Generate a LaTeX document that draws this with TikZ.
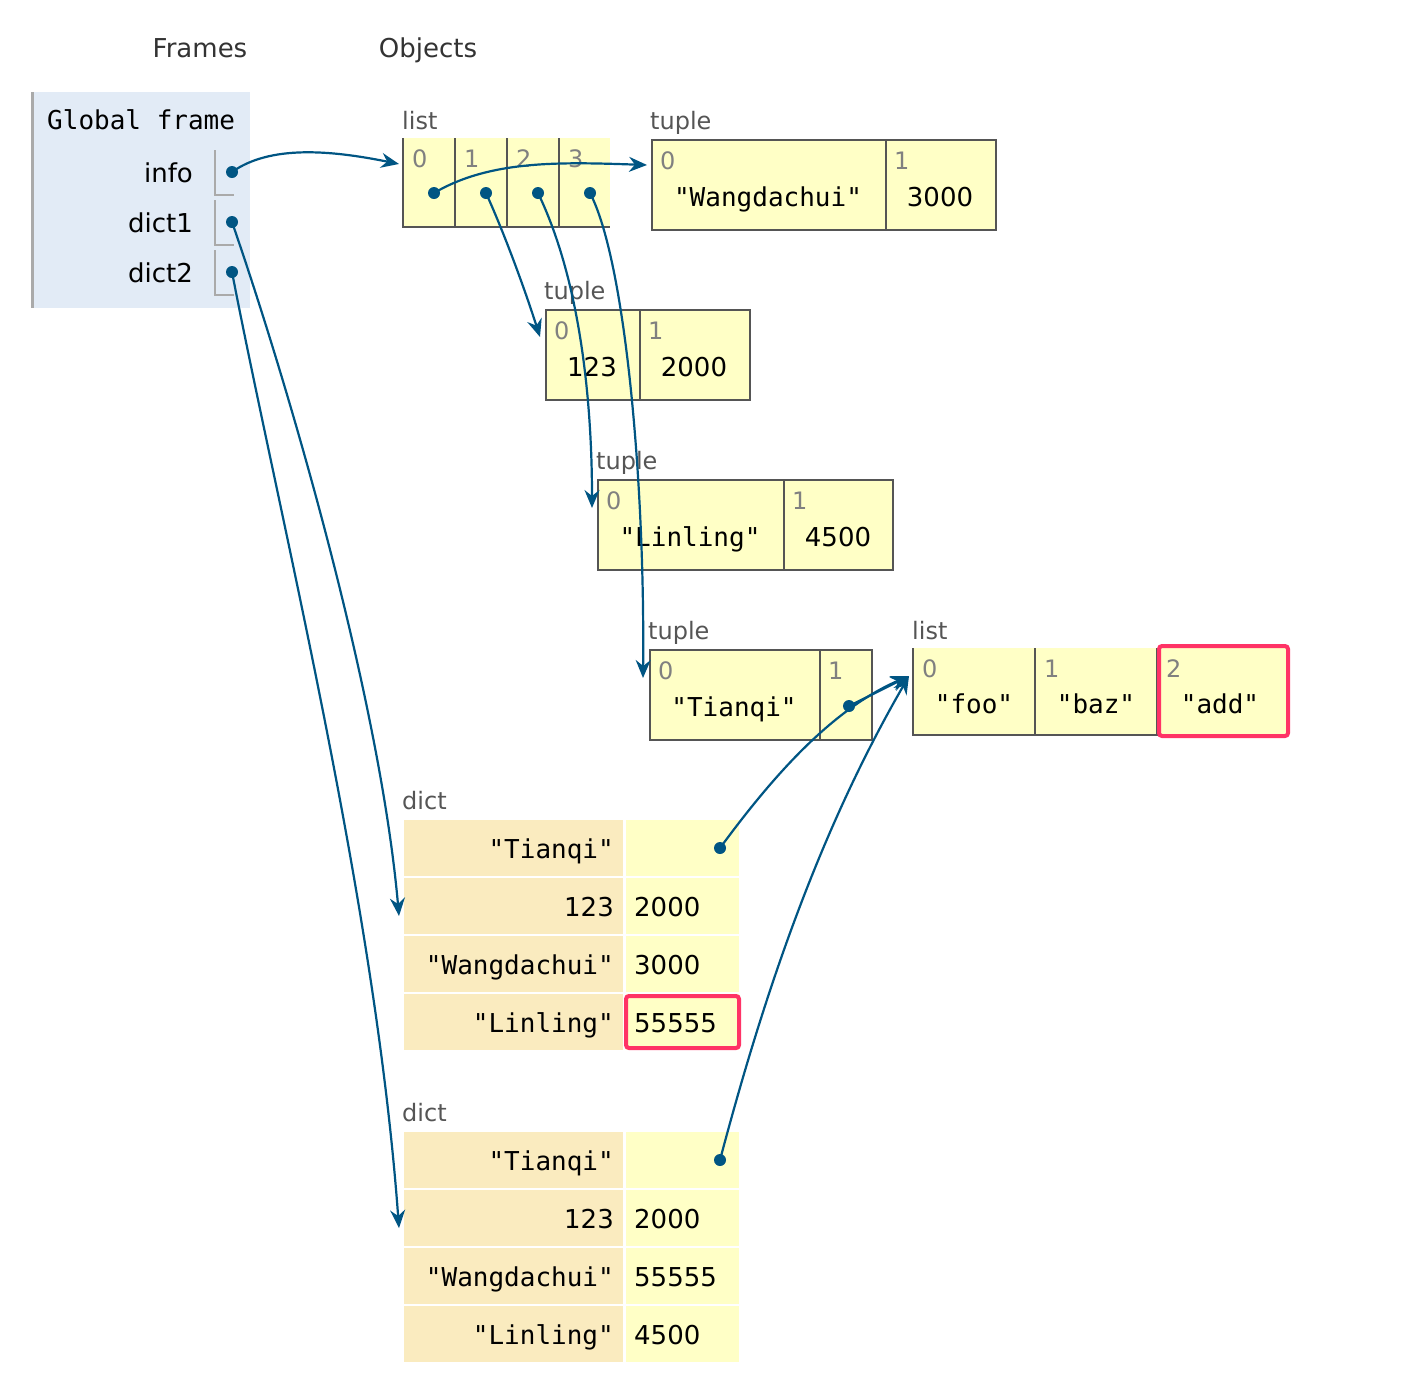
\documentclass[tikz,border=0pt]{standalone}
\usepackage{fontspec}
\setmainfont{DejaVu Sans}
\setmonofont{DejaVu Sans Mono}
\usetikzlibrary{arrows.meta}
\definecolor{ptyellow}{HTML}{FFFFC6}
\definecolor{ptkey}{HTML}{FAEBBF}
\definecolor{ptframe}{HTML}{E2EBF6}
\definecolor{ptborder}{HTML}{555555}
\definecolor{ptarrow}{HTML}{005583}
\definecolor{ptpink}{HTML}{FF3366}
\definecolor{ptidx}{HTML}{808080}
\definecolor{ptlabel}{HTML}{555555}
\definecolor{pthead}{HTML}{333333}
\definecolor{ptframeline}{HTML}{AAAAAA}
\tikzset{
  txt/.style={inner sep=0pt, anchor=base, font=\fontsize{26}{30}\selectfont},
  mono/.style={inner sep=0pt, anchor=base, font=\fontsize{26}{30}\selectfont\ttfamily},
  idx/.style={inner sep=0pt, anchor=base west, text=ptidx, font=\fontsize{24}{28}\selectfont},
  typelabel/.style={inner sep=0pt, anchor=base west, text=ptlabel, font=\fontsize{24}{28}\selectfont},
  head/.style={inner sep=0pt, anchor=base, text=pthead, font=\fontsize{26}{30}\selectfont},
  tcell/.style={draw=ptborder, line width=2pt, fill=ptyellow, anchor=north west, inner sep=0pt, minimum height=90pt},
  lcell/.style={fill=ptyellow, anchor=north west, inner sep=0pt},
  kcell/.style={fill=ptkey, anchor=north west, inner sep=0pt, minimum height=56pt, minimum width=219pt},
  vcell/.style={fill=ptyellow, anchor=north west, inner sep=0pt, minimum height=56pt, minimum width=113pt},
  lborder/.style={draw=ptborder, line width=2pt},
  bracket/.style={draw=ptframeline, line width=2pt},
  dot/.style={circle, fill=ptarrow, inner sep=0pt, minimum size=12pt},
  ref/.style={draw=ptarrow, line width=2.2pt, -{Stealth[length=18pt,width=15pt,inset=6pt]}},
  hl/.style={draw=ptpink, line width=4pt, rounded corners=3pt},
}
\begin{document}
\begin{tikzpicture}[x=1pt,y=-1pt]
\useasboundingbox (0,0) rectangle (1420,1390);
% headers
\node[head] (hframes) at (200,57) {Frames};
\node[head] (hobjects) at (428,57) {Objects};
% global frame
\node[fill=ptframe, anchor=north west, inner sep=0pt, minimum width=218pt, minimum height=216pt] (gframe) at (32,92) {};
\draw[draw=ptframeline, line width=3pt] (gframe.north west) -- (gframe.south west);
\node[mono, anchor=base west] (gtitle) at (47,129) {Global frame};
\node[txt, anchor=base east] (vinfo) at (193,182) {info};
\node[txt, anchor=base east] (vdict1) at (193,232) {dict1};
\node[txt, anchor=base east] (vdict2) at (193,282) {dict2};
\draw[bracket] (215,150) -- (215,195) -- (234,195);
\draw[bracket] (215,200) -- (215,245) -- (234,245);
\draw[bracket] (215,250) -- (215,295) -- (234,295);
\node[dot] (dinfo) at (232,172) {};
\node[dot] (ddict1) at (232,222) {};
\node[dot] (ddict2) at (232,272) {};
% top list
\node[typelabel] (lab1) at (402,129) {list};
\node[lcell, minimum width=207pt, minimum height=89pt] (lst1) at (403,138) {};
\draw[lborder] (403,138) -- (403,227) -- (610,227);
\draw[lborder] (455,138) -- (455,227);
\draw[lborder] (507,138) -- (507,227);
\draw[lborder] (559,138) -- (559,227);
\node[idx] at (412,167) {0};
\node[idx] at (464,167) {1};
\node[idx] at (516,167) {2};
\node[idx] at (568,167) {3};
\node[dot] (l0) at (434,193) {};
\node[dot] (l1) at (486,193) {};
\node[dot] (l2) at (538,193) {};
\node[dot] (l3) at (590,193) {};
% tuple 1
\node[typelabel] (lab2) at (650,129) {tuple};
\node[tcell, minimum width=234pt] (t1a) at (651,139) {};
\node[tcell, minimum width=110pt] (t1b) at (885,139) {};
\node[idx] at (660,169) {0};
\node[idx] at (894,169) {1};
\node[mono] at (768,206) {"Wangdachui"};
\node[txt] at (940,206) {3000};
% tuple 2
\node[typelabel] (lab3) at (544,299) {tuple};
\node[tcell, minimum width=94pt] (t2a) at (545,309) {};
\node[tcell, minimum width=110pt] (t2b) at (639,309) {};
\node[idx] at (554,339) {0};
\node[idx] at (648,339) {1};
\node[txt] at (592,376) {123};
\node[txt] at (694,376) {2000};
% tuple 3
\node[typelabel] (lab4) at (596,469) {tuple};
\node[tcell, minimum width=186pt] (t3a) at (597,479) {};
\node[tcell, minimum width=109pt] (t3b) at (783,479) {};
\node[idx] at (606,509) {0};
\node[idx] at (792,509) {1};
\node[mono] at (690,546) {"Linling"};
\node[txt] at (838,546) {4500};
% tuple 4
\node[typelabel] (lab5) at (648,639) {tuple};
\node[tcell, minimum width=170pt] (t4a) at (649,649) {};
\node[tcell, minimum width=52pt] (t4b) at (819,649) {};
\node[idx] at (658,679) {0};
\node[idx] at (828,679) {1};
\node[mono] at (734,716) {"Tianqi"};
\node[dot] (t4d) at (849,706) {};
% list 2
\node[typelabel] (lab6) at (912,639) {list};
\node[lcell, minimum width=374pt, minimum height=87pt] (lst2) at (913,648) {};
\draw[lborder] (913,648) -- (913,735) -- (1287,735);
\draw[lborder] (1035,648) -- (1035,735);
\draw[lborder] (1157,648) -- (1157,735);
\node[idx] at (922,677) {0};
\node[idx] at (1044,677) {1};
\node[idx] at (1166,677) {2};
\node[mono] at (974,713) {"foo"};
\node[mono] at (1096,713) {"baz"};
\node[mono] at (1220,713) {"add"};
\draw[hl] (1159,646) rectangle (1288,736);
% dict 1
\node[typelabel] (lab7) at (402,809) {dict};
\node[kcell] (d1k1) at (404,820) {};
\node[vcell] (d1v1) at (626,820) {};
\node[kcell] (d1k2) at (404,878) {};
\node[vcell] (d1v2) at (626,878) {};
\node[kcell] (d1k3) at (404,936) {};
\node[vcell] (d1v3) at (626,936) {};
\node[kcell] (d1k4) at (404,994) {};
\node[vcell] (d1v4) at (626,994) {};
\node[mono, anchor=base east] at (614,858) {"Tianqi"};
\node[txt, anchor=base east] at (614,916) {123};
\node[mono, anchor=base east] at (614,974) {"Wangdachui"};
\node[mono, anchor=base east] at (614,1032) {"Linling"};
\node[dot] (d1dot) at (720,848) {};
\node[txt, anchor=base west] at (634,916) {2000};
\node[txt, anchor=base west] at (634,974) {3000};
\node[txt, anchor=base west] at (634,1032) {55555};
\draw[hl] (626,996) rectangle (739,1048);
% dict 2
\node[typelabel] (lab8) at (402,1121) {dict};
\node[kcell] (d2k1) at (404,1132) {};
\node[vcell] (d2v1) at (626,1132) {};
\node[kcell] (d2k2) at (404,1190) {};
\node[vcell] (d2v2) at (626,1190) {};
\node[kcell] (d2k3) at (404,1248) {};
\node[vcell] (d2v3) at (626,1248) {};
\node[kcell] (d2k4) at (404,1306) {};
\node[vcell] (d2v4) at (626,1306) {};
\node[mono, anchor=base east] at (614,1170) {"Tianqi"};
\node[txt, anchor=base east] at (614,1228) {123};
\node[mono, anchor=base east] at (614,1286) {"Wangdachui"};
\node[mono, anchor=base east] at (614,1344) {"Linling"};
\node[dot] (d2dot) at (720,1160) {};
\node[txt, anchor=base west] at (634,1228) {2000};
\node[txt, anchor=base west] at (634,1286) {55555};
\node[txt, anchor=base west] at (634,1344) {4500};
% arrow targets
\coordinate (tLst1) at (399,164);
\coordinate (tT1) at (647,165);
\coordinate (tT2) at (540,337);
\coordinate (tT3) at (592,508);
\coordinate (tT4) at (643,678);
\coordinate (tLst2) at (909,676);
\coordinate (tD1) at (399,916);
\coordinate (tD2) at (399,1228);
% arrows
\draw[ref] (dinfo.center) .. controls (270,145) and (330,150) .. (tLst1);
\draw[ref] (l0.center) .. controls (490,160) and (560,162) .. (tT1);
\draw[ref] (l1.center) .. controls (505,235) and (525,290) .. (tT2);
\draw[ref] (l2.center) .. controls (580,280) and (592,400) .. (tT3);
\draw[ref] (l3.center) .. controls (625,260) and (645,480) .. (tT4);
\draw[ref] (t4d.center) -- (tLst2);
\draw[ref] (d1dot.center) .. controls (770,780) and (830,710) .. (tLst2);
\draw[ref] (d2dot.center) .. controls (765,990) and (820,830) .. (tLst2);
\draw[ref] (ddict1.center) .. controls (290,390) and (380,700) .. (tD1);
\draw[ref] (ddict2.center) .. controls (280,520) and (375,900) .. (tD2);
\end{tikzpicture}
\end{document}
